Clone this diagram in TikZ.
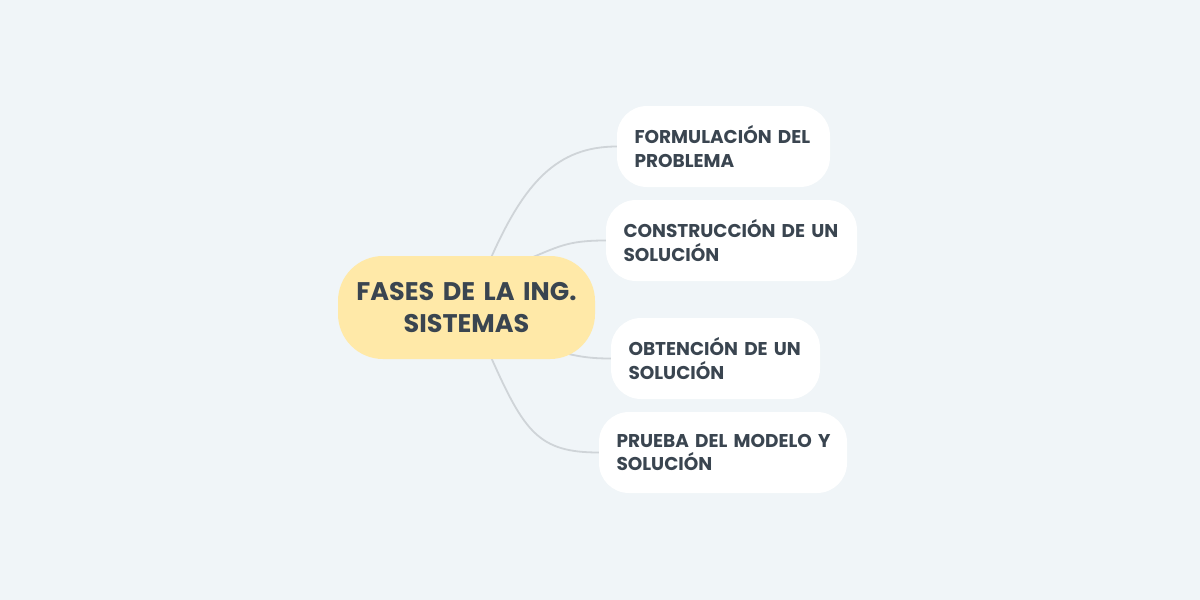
\documentclass[tikz,border=0pt]{standalone}
\usepackage{fontspec}
\setmainfont{Poppins}
\usetikzlibrary{backgrounds}
\definecolor{bgc}{HTML}{F0F5F8}
\definecolor{rootc}{HTML}{FFE9A8}
\definecolor{txtc}{HTML}{3A4550}
\definecolor{linec}{HTML}{CFD4D8}
\begin{document}
\begin{tikzpicture}[x=1pt,y=-1pt,
  rootbox/.style={fill=rootc, rounded corners=45pt, minimum width=257pt, minimum height=103pt,
    text width=237pt, align=center, inner sep=0pt, text=txtc,
    font=\fontsize{25.5}{31.5}\selectfont\bfseries},
  childbox/.style={fill=white, rounded corners=30pt, minimum height=81pt,
    inner xsep=17.5pt, inner ysep=0pt, align=left, text=txtc,
    font=\fontsize{18.5}{23.6}\selectfont\bfseries},
  conn/.style={draw=linec, line width=1.8pt}]
\useasboundingbox (0,0) rectangle (1200,600);
\node[rootbox] (root) at (466.5,307.5) {FASES DE LA ING.\\SISTEMAS};
\node[childbox, minimum width=213pt, text width=178pt] (c1) at (723.5,146.5) {\mbox{FORMULACIÓN DEL}\\\mbox{PROBLEMA}};
\node[childbox, minimum width=251pt, text width=216pt] (c2) at (731.5,240.5) {\mbox{CONSTRUCCIÓN DE UN}\\\mbox{SOLUCIÓN}};
\node[childbox, minimum width=209pt, text width=174pt] (c3) at (715.5,358.5) {\mbox{OBTENCIÓN DE UN}\\\mbox{SOLUCIÓN}};
\node[childbox, minimum width=248pt, text width=213pt] (c4) at (723,452.5) {\mbox{PRUEBA DEL MODELO Y}\\\mbox{SOLUCIÓN}};
\begin{scope}[on background layer]
\fill[bgc] (0,0) rectangle (1200,600);
\coordinate (s1) at ([xshift=24.5pt,yshift=-2pt]root.north);
\coordinate (s2) at ([xshift=55pt,yshift=-6pt]root.north);
\coordinate (s3) at ([xshift=89pt,yshift=8pt]root.south);
\coordinate (s4) at ([xshift=24.5pt,yshift=2pt]root.south);
\draw[conn] (s1) .. controls +(66:82pt) and +(-60pt,0pt) .. (c1.west);
\draw[conn] (s2) .. controls +(22:40pt) and +(-40pt,0pt) .. (c2.west);
\draw[conn] (s3) .. controls +(-12:22pt) and +(-25pt,0pt) .. (c3.west);
\draw[conn] (s4) .. controls +(-66:82pt) and +(-60pt,0pt) .. (c4.west);
\end{scope}
\end{tikzpicture}
\end{document}
